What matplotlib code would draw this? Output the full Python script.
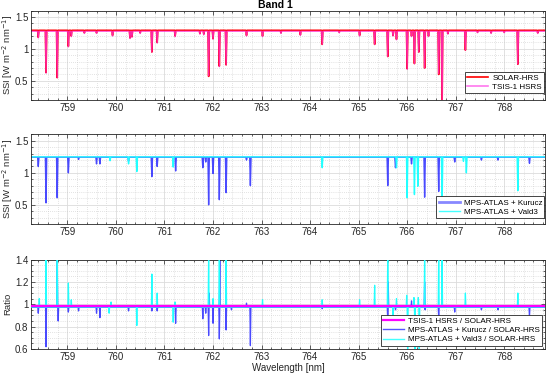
import numpy as np
import matplotlib
matplotlib.use("Agg")
import matplotlib.pyplot as plt
from matplotlib.ticker import MultipleLocator
from matplotlib.lines import Line2D

plt.rcParams['font.family'] = ['Liberation Sans', 'DejaVu Sans']

# ---------------- data ----------------
xlim = (758.25, 768.84)

# Panel 1: SOLAR-HRS and TSIS-1 HSRS absorption lines (centre nm, line-core SSI)
solar_cont = 1.29
tsis_cont = 1.275
p1_wl = [758.40, 758.56, 758.79, 759.02, 759.08, 759.35, 759.60, 759.93, 760.29, 760.33,
         760.50, 760.74, 760.85, 761.22, 761.73, 761.81, 761.91, 762.00, 762.13, 762.27,
         762.69, 763.02, 763.40, 763.80, 764.25, 764.60, 765.02, 765.33, 765.60, 765.71,
         765.78, 766.00, 766.09, 766.15, 766.24, 766.36, 766.44, 766.65, 766.72, 766.84,
         767.20, 767.45, 767.73, 768.00, 768.28, 768.69]
solar_min = [1.18, 0.63, 0.55, 1.04, 1.20, 1.25, 1.25, 1.21, 1.17, 1.19,
             1.25, 0.95, 1.10, 1.20, 1.24, 1.23, 0.57, 1.16, 0.73, 0.75,
             1.21, 1.20, 1.25, 1.22, 1.07, 1.26, 1.21, 1.07, 0.88, 1.21,
             1.15, 0.69, 1.20, 0.77, 0.95, 0.70, 1.20, 0.60, 0.10, 1.24,
             0.98, 1.26, 1.25, 1.26, 0.76, 1.25]
tsis_min = [1.17, 0.62, 0.55, 1.03, 1.19, 1.24, 1.24, 1.20, 1.16, 1.18,
            1.24, 0.95, 1.09, 1.19, 1.23, 1.22, 0.58, 1.15, 0.72, 0.75,
            1.20, 1.19, 1.24, 1.21, 1.07, 1.25, 1.20, 1.07, 0.88, 1.20,
            1.14, 0.68, 1.19, 0.77, 0.95, 0.70, 1.19, 0.61, 0.10, 1.23,
            0.98, 1.25, 1.24, 1.25, 0.76, 1.24]

# Panel 2: MPS-ATLAS models
kurucz_cont = 1.245
kurucz_wl = [758.40, 758.56, 758.79, 759.02, 759.23, 759.60, 759.67, 760.26, 760.74, 760.85,
             761.23, 761.79, 761.85, 761.91, 762.00, 762.13, 762.27, 762.69, 762.77, 765.60,
             765.76, 766.09, 766.36, 766.65, 766.98, 767.53, 767.87, 768.52]
kurucz_min = [1.10, 0.53, 0.61, 1.00, 1.21, 1.14, 1.14, 1.18, 0.94, 1.10,
              1.03, 1.08, 1.17, 0.50, 0.99, 0.58, 0.69, 1.20, 0.80, 0.80,
              1.08, 1.14, 0.62, 0.71, 1.17, 1.20, 1.20, 1.15]
vald_cont = 1.25
vald_wl = [759.88, 760.26, 760.43, 761.18, 764.25, 765.78, 766.00, 766.15, 766.22, 766.72,
           767.16, 767.22, 768.28]
vald_min = [1.19, 1.14, 1.02, 1.09, 1.08, 1.08, 0.61, 0.66, 0.79, 0.45,
            1.18, 1.00, 0.72]

# Panel 3: ratios
tsis_ratio = 0.98
kur_ratio_base = 0.972
kur_ratio_wl = [758.40, 758.56, 758.79, 758.81, 759.02, 759.23, 759.60, 759.67, 760.26, 760.74,
                760.85, 761.23, 761.79, 761.85, 761.91, 761.92, 762.00, 762.13, 762.14, 762.27,
                762.38, 762.69, 762.77, 764.25, 765.60, 765.61, 765.76, 766.09, 766.36, 766.37,
                766.65, 766.98, 767.53, 767.87, 768.52]
kur_ratio_val = [0.92, 0.62, 1.45, 0.85, 0.93, 0.94, 0.92, 0.88, 0.94, 0.94,
                 0.94, 0.83, 0.87, 0.92, 0.72, 1.10, 0.83, 0.69, 1.45, 0.77,
                 0.95, 1.01, 0.63, 0.96, 0.85, 1.20, 0.95, 1.03, 1.20, 0.95,
                 0.88, 0.93, 0.95, 0.95, 0.89]
vald_ratio_base = 0.975
vald_ratio_wl = [758.42, 758.56, 758.79, 759.02, 759.08, 759.86, 759.90, 760.43, 760.74, 760.85,
                 761.18, 761.22, 761.91, 762.00, 762.13, 762.27, 763.02, 764.25, 765.02, 765.33,
                 765.60, 765.71, 765.78, 765.99, 766.01, 766.14, 766.16, 766.23, 766.25, 766.36,
                 766.65, 766.72, 767.20, 768.28]
vald_ratio_val = [1.05, 1.45, 1.45, 1.19, 1.04, 0.92, 1.02, 0.81, 1.27, 1.10,
                  0.84, 1.02, 1.45, 1.05, 1.45, 1.45, 1.04, 1.04, 1.04, 1.17,
                  1.45, 0.90, 1.05, 1.08, 0.55, 1.06, 0.55, 1.06, 0.55, 1.45,
                  1.45, 1.45, 1.10, 1.10]

# ---------------- helpers ----------------
def line_profile(centres, cores, base, hw=0.014):
    c = np.asarray(centres, float)
    v = np.asarray(cores, float)
    order = np.argsort(c)
    c, v = c[order], v[order]
    b = np.full_like(c, base)
    x = np.column_stack([c - hw, c, c + hw]).ravel()
    y = np.column_stack([b, v, b]).ravel()
    x = np.concatenate([[xlim[0] - 1], x, [xlim[1] + 1]])
    y = np.concatenate([[base], y, [base]])
    return x, y

edge = '#262626'

def style(ax, ymin, ymax, ymin_step, yticks, ylabels):
    ax.set_xlim(*xlim)
    ax.set_ylim(ymin, ymax)
    ax.xaxis.set_major_locator(MultipleLocator(1))
    ax.xaxis.set_minor_locator(MultipleLocator(0.2))
    ax.set_yticks(yticks)
    ax.set_yticklabels(ylabels)
    ax.yaxis.set_minor_locator(MultipleLocator(ymin_step))
    ax.grid(True, which='major', color='#dcdcdc', lw=0.6, ls='-')
    ax.grid(True, which='minor', color='#c8c8c8', lw=0.5, ls=(0, (1, 2)))
    ax.set_axisbelow(True)
    ax.tick_params(which='both', direction='in', top=True, right=True,
                   colors=edge, labelsize=7, width=0.5, pad=2)
    ax.tick_params(which='major', length=3)
    ax.tick_params(which='minor', length=1.6)
    for s in ax.spines.values():
        s.set_color(edge)
        s.set_linewidth(0.6)

fig = plt.figure(figsize=(5.5, 3.77), dpi=100)
L, W = 31 / 550, 514 / 550
H = 89.5 / 377
ax1 = fig.add_axes([L, 1 - 100 / 377, W, H])
ax2 = fig.add_axes([L, 1 - 224 / 377, W, H])
ax3 = fig.add_axes([L, 1 - 349 / 377, W, H])

ylab = 'SSI [W m$^{-2}$ nm$^{-1}$]'

# Panel 1
x, y = line_profile(p1_wl, solar_min, solar_cont)
ax1.plot(x, y, color='#ff0000', lw=1.2)
x, y = line_profile(p1_wl, tsis_min, tsis_cont)
ax1.plot(x, y, color='#ff33dd', lw=0.9, alpha=0.75)
style(ax1, 0.2, 1.6, 0.1, [0.5, 1.0, 1.5], ['0.5', '1', '1.5'])
ax1.set_ylabel(ylab, fontsize=6.8, color=edge, va='center')
ax1.yaxis.set_label_coords(-0.046, 0.5)
fig.text(0.5, 1 - 4.5 / 377, 'Band 1', fontsize=7.5, fontweight='bold',
         color='black', ha='center', va='center')

# Panel 2
x, y = line_profile(kurucz_wl, kurucz_min, kurucz_cont)
ax2.plot(x, y, color='#2a2aff', lw=1.0, alpha=0.85)
x, y = line_profile(vald_wl, vald_min, vald_cont)
ax2.plot(x, y, color='#22ffff', lw=1.0)
style(ax2, 0.2, 1.6, 0.1, [0.5, 1.0, 1.5], ['0.5', '1', '1.5'])
ax2.set_ylabel(ylab, fontsize=6.8, color=edge, va='center')
ax2.yaxis.set_label_coords(-0.046, 0.5)

# Panel 3
x, y = line_profile(kur_ratio_wl, kur_ratio_val, kur_ratio_base, hw=0.01)
ax3.plot(x, y, color='#2a2aff', lw=0.9, alpha=0.85, zorder=2)
x, y = line_profile(vald_ratio_wl, vald_ratio_val, vald_ratio_base, hw=0.01)
ax3.plot(x, y, color='#22ffff', lw=0.9, zorder=3)
ax3.plot(list(xlim), [tsis_ratio, tsis_ratio], color='#ff00ff', lw=1.6, zorder=4)
style(ax3, 0.6, 1.4, 0.05, [0.6, 0.8, 1.0, 1.2, 1.4], ['0.6', '0.8', '1', '1.2', '1.4'])
ax3.set_ylabel('Ratio', fontsize=6.8, color=edge, va='center')
ax3.yaxis.set_label_coords(-0.046, 0.5)
ax3.set_xlabel('Wavelength [nm]', fontsize=7, color=edge, labelpad=1)

leg_kw = dict(loc='lower right', fontsize=5.8, frameon=True, fancybox=False,
              framealpha=1, edgecolor=edge, borderpad=0.3, labelspacing=0.2,
              handlelength=2.6, handletextpad=0.5, borderaxespad=0.0)
h1 = [Line2D([], [], color='#ff0000', lw=1.2), Line2D([], [], color='#ff77ee', lw=1.2)]
h2 = [Line2D([], [], color='#8888ff', lw=2.0), Line2D([], [], color='#44ffff', lw=1.0)]
h3 = [Line2D([], [], color='#ff00ff', lw=1.6),
      Line2D([], [], color='#5555ff', lw=1.0),
      Line2D([], [], color='#44ffff', lw=1.0)]
lg1 = ax1.legend(h1, ['SOLAR-HRS', 'TSIS-1 HSRS'], bbox_to_anchor=(0.999, 0.075), **leg_kw)
lg2 = ax2.legend(h2, ['MPS-ATLAS + Kurucz', 'MPS-ATLAS + Vald3'],
                 bbox_to_anchor=(0.999, 0.065), **leg_kw)
lg3 = ax3.legend(h3, ['TSIS-1 HSRS / SOLAR-HRS', 'MPS-ATLAS + Kurucz / SOLAR-HRS',
                      'MPS-ATLAS + Vald3 / SOLAR-HRS'],
                 bbox_to_anchor=(0.995, 0.035), **leg_kw)
for lg in (lg1, lg2, lg3):
    lg.get_frame().set_linewidth(0.6)
    lg.set_zorder(10)

fig.savefig('out.png', dpi=100)
